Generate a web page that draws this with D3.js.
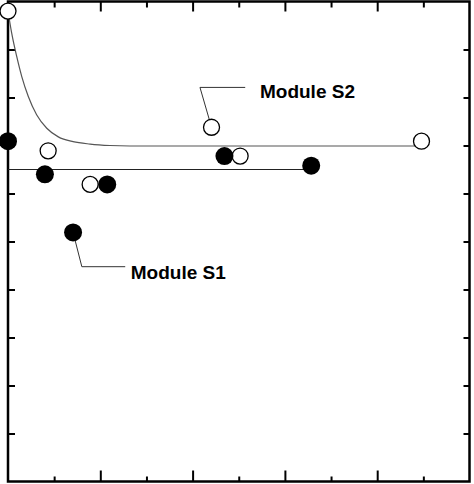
<!DOCTYPE html>
<html lang="en">
<head>
<meta charset="UTF-8">
<title>Module S1 / S2</title>
<script src="https://d3js.org/d3.v7.min.js"></script>
<style>
  body { margin: 0; background: #fff; }
  .tick line { stroke: #000; stroke-width: 2; }
  .label { font-family: "Liberation Sans", Arial, sans-serif; font-weight: bold; font-size: 19px; fill: #000; }
</style>
</head>
<body>
<div id="chart"></div>
<script>
// data (arbitrary units, axes have no labels)
const xMajor = [2, 4, 6, 8];
const xMinor = [1, 3, 5, 7, 9];
const yTicks = [1, 2, 3, 4, 5, 6, 7, 8, 9];

// Module S1 (filled)
const s1X = [0, 0.80, 1.41, 2.15, 4.69, 6.57];
const s1Y = [7.09, 6.40, 5.19, 6.19, 6.78, 6.58];
// Module S1 fit line (flat)
const s1LineX = [0, 6.57];
const s1LineY = [6.50, 6.50];

// Module S2 (open)
const s2X = [0, 0.87, 1.78, 4.41, 5.03, 8.96];
const s2Y = [9.80, 6.89, 6.19, 7.38, 6.78, 7.09];
// Module S2 fit curve
const s2CurveX = [0, 0.08, 0.19, 0.30, 0.44, 0.62, 0.84, 1.09, 1.41, 1.78, 2.21, 2.64, 8.96];
const s2CurveY = [9.80, 9.34, 8.85, 8.43, 8.02, 7.64, 7.36, 7.18, 7.08, 7.03, 7.00, 6.99, 6.99];

// labels: point index, elbow, end of horizontal leader, text start
const labels = [
  { name: 'Module S2', series: 's2', idx: 3, elbow: [4.16, 8.21], end: [5.14, 8.21], text: [5.46, 8.0] },
  { name: 'Module S1', series: 's1', idx: 2, elbow: [1.60, 4.475], end: [2.54, 4.475], text: [2.66, 4.22] }
];

const width = 474, height = 484;
const margin = { top: 1.5, right: 4.5, bottom: 2.5, left: 8 };
const w = width - margin.left - margin.right;
const h = height - margin.top - margin.bottom;

const svg = d3.select('#chart').append('svg')
  .attr('width', width)
  .attr('height', height)
  .append('g')
  .attr('transform', 'translate(' + margin.left + ',' + margin.top + ')');

const x = d3.scaleLinear().domain([0, 10]).range([0, w]);
const y = d3.scaleLinear().domain([0, 10]).range([h, 0]);

// ticks, all pointing inward, no labels
function ticks(axis, vals, size, tr) {
  const g = svg.append('g')
    .attr('transform', tr)
    .call(axis.tickValues(vals).tickSize(size).tickSizeOuter(0).tickFormat(''));
  g.select('.domain').remove();
}
ticks(d3.axisBottom(x), xMajor, -11, 'translate(0,' + h + ')');
ticks(d3.axisBottom(x), xMinor, -5, 'translate(0,' + h + ')');
ticks(d3.axisTop(x), xMajor, -10, 'translate(0,0)');
ticks(d3.axisTop(x), xMinor, -6, 'translate(0,0)');
ticks(d3.axisLeft(y), yTicks, -7, 'translate(0,0)');
ticks(d3.axisRight(y), yTicks, -6, 'translate(' + w + ',0)');

svg.append('rect')
  .attr('width', w)
  .attr('height', h)
  .attr('fill', 'none')
  .attr('stroke', '#000')
  .attr('stroke-width', 2.5);

const line = d3.line()
  .x(d => x(d[0]))
  .y(d => y(d[1]));

svg.append('path')
  .datum(d3.zip(s2CurveX, s2CurveY))
  .attr('d', line.curve(d3.curveMonotoneX))
  .attr('fill', 'none')
  .attr('stroke', '#555')
  .attr('stroke-width', 1.2);

svg.append('path')
  .datum(d3.zip(s1LineX, s1LineY))
  .attr('d', line.curve(d3.curveLinear))
  .attr('fill', 'none')
  .attr('stroke', '#222')
  .attr('stroke-width', 1);

// leader lines
const pts = { s1: d3.zip(s1X, s1Y), s2: d3.zip(s2X, s2Y) };
labels.forEach(l => {
  const p = pts[l.series][l.idx];
  const px = x(p[0]), py = y(p[1]);
  const ex = x(l.elbow[0]), ey = y(l.elbow[1]);
  const a = Math.atan2(ey - py, ex - px);
  const r = 8.5;
  svg.append('path')
    .attr('d', 'M' + (px + r * Math.cos(a)) + ',' + (py + r * Math.sin(a)) +
      'L' + ex + ',' + ey + 'L' + x(l.end[0]) + ',' + y(l.end[1]))
    .attr('fill', 'none')
    .attr('stroke', '#333')
    .attr('stroke-width', 1);
  svg.append('text')
    .attr('class', 'label')
    .attr('x', x(l.text[0]))
    .attr('y', y(l.text[1]))
    .text(l.name);
});

// open circles first, filled ones sit on top
svg.selectAll('.s2')
  .data(pts.s2)
  .enter().append('circle')
  .attr('class', 's2')
  .attr('cx', d => x(d[0]))
  .attr('cy', d => y(d[1]))
  .attr('r', 8)
  .attr('fill', '#fff')
  .attr('stroke', '#000')
  .attr('stroke-width', 1.3);

svg.selectAll('.s1')
  .data(pts.s1)
  .enter().append('circle')
  .attr('class', 's1')
  .attr('cx', d => x(d[0]))
  .attr('cy', d => y(d[1]))
  .attr('r', 9)
  .attr('fill', '#000');
</script>
</body>
</html>
